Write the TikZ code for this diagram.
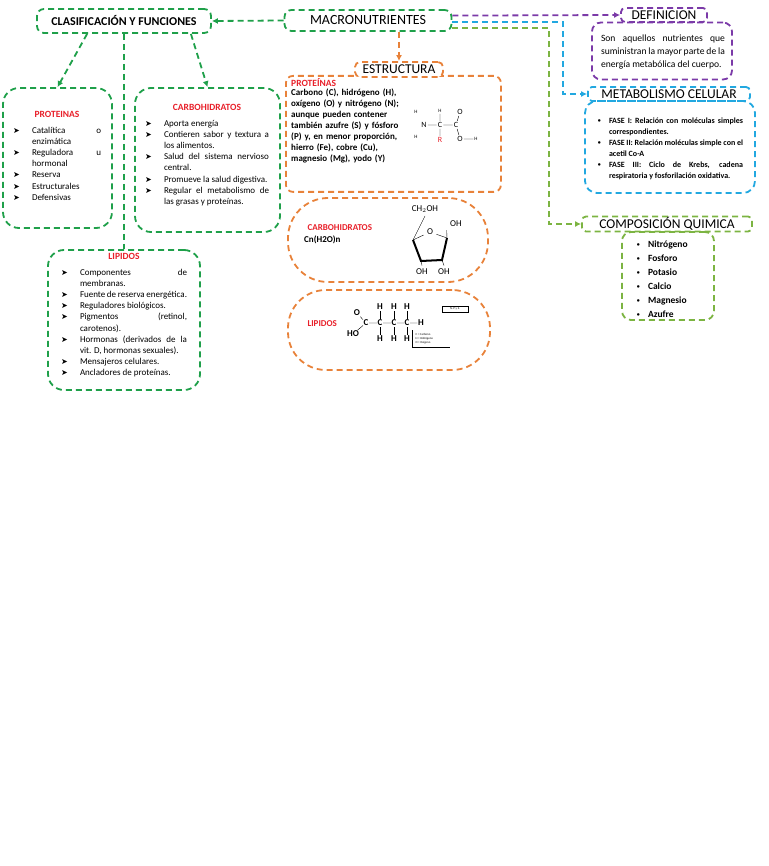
\documentclass[tikz,border=0pt]{standalone}
\usepackage{fontspec}
\setmainfont{Carlito}
\newfontfamily\sym{DejaVu Sans}
\usetikzlibrary{positioning,arrows.meta}
\definecolor{verde}{HTML}{1FA04A}
\definecolor{naranja}{HTML}{E8823A}
\definecolor{morado}{HTML}{7B3AA8}
\definecolor{azul}{HTML}{22A8E0}
\definecolor{lima}{HTML}{7CB442}
\definecolor{rojo}{HTML}{E8202A}
\newcommand{\flecha}{\par\hangindent=19pt\hangafter=1\noindent\makebox[19pt][l]{\sym\footnotesize ➤}}
\newcommand{\punto}{\par\hangindent=12pt\hangafter=1\noindent\makebox[12pt][l]{\sym\scriptsize •}}
\tikzset{
  caja/.style={draw=#1, line width=1.8pt, dash pattern=on 6pt off 4pt, rounded corners=7pt},
  texto/.style={font=\fontsize{9}{11.2}\selectfont, align=justify, inner sep=0pt},
  flecha/.style={draw=#1, line width=1.8pt, dash pattern=on 6pt off 4pt, -{Latex[length=6pt,width=6pt]}},
  titulo/.style={font=\fontsize{9.5}{10}\selectfont\bfseries, text=rojo},
  rotulo/.style={font=\fontsize{13.5}{15}\selectfont, inner sep=1pt}
}
\hyphenpenalty=10000
\exhyphenpenalty=10000
\begin{document}
\begin{tikzpicture}[x=1pt,y=-1pt]
\useasboundingbox (0,0) rectangle (768,866);

% Cajas principales
\node[caja=verde, minimum width=174pt, minimum height=24pt, font=\fontsize{12}{13}\selectfont\bfseries] (clasif) at (124,21) {CLASIFICACIÓN Y FUNCIONES};
\node[caja=verde, minimum width=167pt, minimum height=21pt, font=\fontsize{14}{15}\selectfont] (macro) at (368,20.5) {MACRONUTRIENTES};

% Clasificacion
\node[caja=verde, rounded corners=16pt, minimum width=109pt, minimum height=140pt] (prot) at (57.5,158) {};
\node[titulo] (protT) at (57,114) {PROTEINAS};
\node[texto, text width=88pt, below=1pt of protT] (protL) {\flecha Catalítica o enzimática\flecha Reguladora u hormonal\flecha Reserva\flecha Estructurales\flecha Defensivas\par};

\node[caja=verde, rounded corners=16pt, minimum width=145pt, minimum height=144pt] (carb) at (207.5,160) {};
\node[titulo] (carbT) at (207,107) {CARBOHIDRATOS};
\node[texto, text width=124pt, below=1pt of carbT] (carbL) {\flecha Aporta energía\flecha Contieren sabor y textura a los alimentos.\flecha Salud del sistema nervioso central.\flecha Promueve la salud digestiva.\flecha Regular el metabolismo de las grasas y proteínas.\par};

\node[caja=verde, rounded corners=16pt, minimum width=152pt, minimum height=140pt] (lip) at (124,320) {};
\node[titulo] (lipT) at (124,256) {LIPIDOS};
\node[texto, text width=126pt, below=1pt of lipT] (lipL) {\flecha Componentes de membranas.\flecha Fuente de reserva energética.\flecha Reguladores biológicos.\flecha Pigmentos (retinol, carotenos).\flecha Hormonas (derivados de la vit. D, hormonas sexuales).\flecha Mensajeros celulares.\flecha Ancladores de proteínas.\par};

\draw[flecha=verde] (macro.west) -- (clasif.east);
\draw[flecha=verde] ([xshift=51pt]clasif.south west) -- (prot.north);
\draw[flecha=verde] ([xshift=-21pt]clasif.south east) -- (carb.north);
\draw[flecha=verde, -] (clasif.south) -- (lip.north);

% Estructura
\node[caja=naranja, rounded corners=7pt, minimum width=215pt, minimum height=116pt, anchor=north west] (eprot) at (285,75) {};
\node[caja=naranja, rounded corners=5pt, minimum width=88pt, minimum height=15pt, rotulo, fill=white] (estr) at (399,69.5) {ESTRUCTURA};
\draw[flecha=naranja] (macro.south -| estr) -- (estr.north);
\node[titulo, anchor=west, inner sep=0pt] (epT) at (291,83) {PROTEÍNAS};
\node[texto, text width=112pt, anchor=north west, font=\fontsize{9}{11}\selectfont\bfseries, align=left] (epL) at (291,89) {Carbono (C), hidrógeno (H), oxígeno (O) y nitrógeno (N); aunque pueden contener también azufre (S) y fósforo (P) y, en menor proporción, hierro (Fe), cobre (Cu), magnesio (Mg), yodo (Y)};
% aminoacido
\begin{scope}[font=\fontsize{8}{9}\selectfont, inner sep=1pt]
\node (aN) at (424,125) {N};
\node (aC1) at (440,125) {C};
\node (aC2) at (456,125) {C};
\node (aO1) at (460,112) {O};
\node (aO2) at (460,139) {O};
\node[font=\tiny] (aH1) at (416,112) {H};
\node[font=\tiny] (aH2) at (416,137) {H};
\node[font=\tiny] (aH3) at (440,111) {H};
\node[text=rojo] (aR) at (440,140) {R};
\node[font=\tiny] (aH4) at (476,139) {H};
\draw[thin] (aN) -- (aC1) -- (aC2) -- (aO1) (aC2) -- (aO2) -- (aH4) (aC1) -- (aH3) (aC1) -- (aR);
\end{scope}

\node[caja=naranja, rounded corners=40pt, minimum width=200pt, minimum height=84pt] (ecarb) at (388,240) {};
\node[titulo, anchor=west, font=\fontsize{9}{10}\selectfont\bfseries] (ecT) at (304,228) {CARBOHIDRATOS};
\node[texto, anchor=west, font=\fontsize{9}{10}\selectfont\bfseries] (ecL) at (304,240) {Cn(H2O)n};
% furanosa
\begin{scope}[font=\fontsize{9}{10}\selectfont]
\node (fO) at (430,232) {O};
\coordinate (f1) at (413,240);
\coordinate (f2) at (447,238);
\coordinate (f3) at (421,261);
\coordinate (f4) at (442,260);
\draw[thin] (fO) -- (f1) (fO) -- (f2);
\draw[line width=2pt] (f1) -- (f3) -- (f4) -- (f2);
\node (fA) at (425,209) {CH$_2$OH};
\node (fB) at (456,224) {OH};
\node (fC) at (422,272) {OH};
\node (fD) at (444,272) {OH};
\draw[thin] (f1) -- (fA.south) (f2) -- (fB.south west) (f3) -- (fC.north) (f4) -- (fD.north);
\end{scope}

\node[caja=naranja, rounded corners=38pt, minimum width=202pt, minimum height=80pt] (elip) at (389,330) {};
\node[titulo, anchor=west, font=\fontsize{9}{10}\selectfont\bfseries] (elT) at (304,324) {LIPIDOS};
% lipido
\begin{scope}[font=\fontsize{9}{10}\selectfont\bfseries, inner sep=0.5pt]
\node (lC1) at (366,323) {C};
\node (lC2) at (380,323) {C};
\node (lC3) at (394,323) {C};
\node (lC4) at (407,323) {C};
\node (lH0) at (421,323) {H};
\node (lO) at (357,313) {O};
\node (lHO) at (353,334) {HO};
\foreach \c in {2,3,4}{
  \node (lHa\c) at ([yshift=-16pt]lC\c) {H};
  \node (lHb\c) at ([yshift=16pt]lC\c) {H};
  \draw[thin] (lHa\c) -- (lC\c) -- (lHb\c);
}
\draw[thin] (lC1) -- (lC2) -- (lC3) -- (lC4) -- (lH0) (lC1) -- (lO) (lC1) -- (lHO);
\end{scope}
\node[draw, thin, font=\fontsize{3}{4}\selectfont, minimum width=26pt, minimum height=6pt, inner sep=0.5pt] (leyenda) at (455,309) {N. P y S.};
\node[font=\fontsize{3}{4}\selectfont, align=left, anchor=north west] (ley2) at (412,330) {C = Carbono\\H = Hidrógeno\\O = Oxígeno};
\draw[thin] (ley2.north west) -- (ley2.south west) -- ++(38,0);

% Definicion
\node[caja=morado, rounded corners=4pt, minimum width=86pt, minimum height=14pt, rotulo] (defT) at (664,15) {DEFINICION};
\node[caja=morado, rounded corners=9pt, minimum width=140pt, minimum height=57pt] (def) at (662,51) {};
\node[texto, text width=124pt, font=\fontsize{9.6}{13}\selectfont] (defL) at (663,52) {Son aquellos nutrientes que suministran la mayor parte de la energía metabólica del cuerpo.};
\draw[flecha=morado] ([yshift=-6.5pt]macro.north east) -- (defT.west);

% Metabolismo
\node[caja=azul, rounded corners=4pt, minimum width=162pt, minimum height=14pt, rotulo] (metT) at (669,94) {METABOLISMO CELULAR};
\node[caja=azul, rounded corners=12pt, minimum width=170pt, minimum height=92pt] (met) at (670,147) {};
\node[texto, text width=146pt, font=\fontsize{8}{11}\selectfont\bfseries] (metL) at (670,146) {\punto FASE I: Relación con moléculas simples correspondientes.\punto FASE II: Relación moléculas simple con el acetil Co-A\punto FASE III: Ciclo de Krebs, cadena respiratoria y fosforilación oxidativa.\par};
\coordinate (m1) at (563,22);
\draw[flecha=azul] (macro.east |- m1) -- (m1) |- (metT.west);

% Composicion
\node[caja=lima, rounded corners=4pt, minimum width=170pt, minimum height=14pt, rotulo] (compT) at (667,224) {COMPOSICIÓN QUIMICA};
\node[caja=lima, rounded corners=9pt, minimum width=92pt, minimum height=88pt] (comp) at (668,276) {};
\node[texto, text width=70pt, font=\fontsize{9.5}{14}\selectfont\bfseries, align=left] (compL) at (671,276) {\punto Nitrógeno\punto Fosforo\punto Potasio\punto Calcio\punto Magnesio\punto Azufre\par};
\coordinate (k1) at (549,28);
\draw[flecha=lima] (macro.east |- k1) -- (k1) |- (compT.west);
\end{tikzpicture}
\end{document}
